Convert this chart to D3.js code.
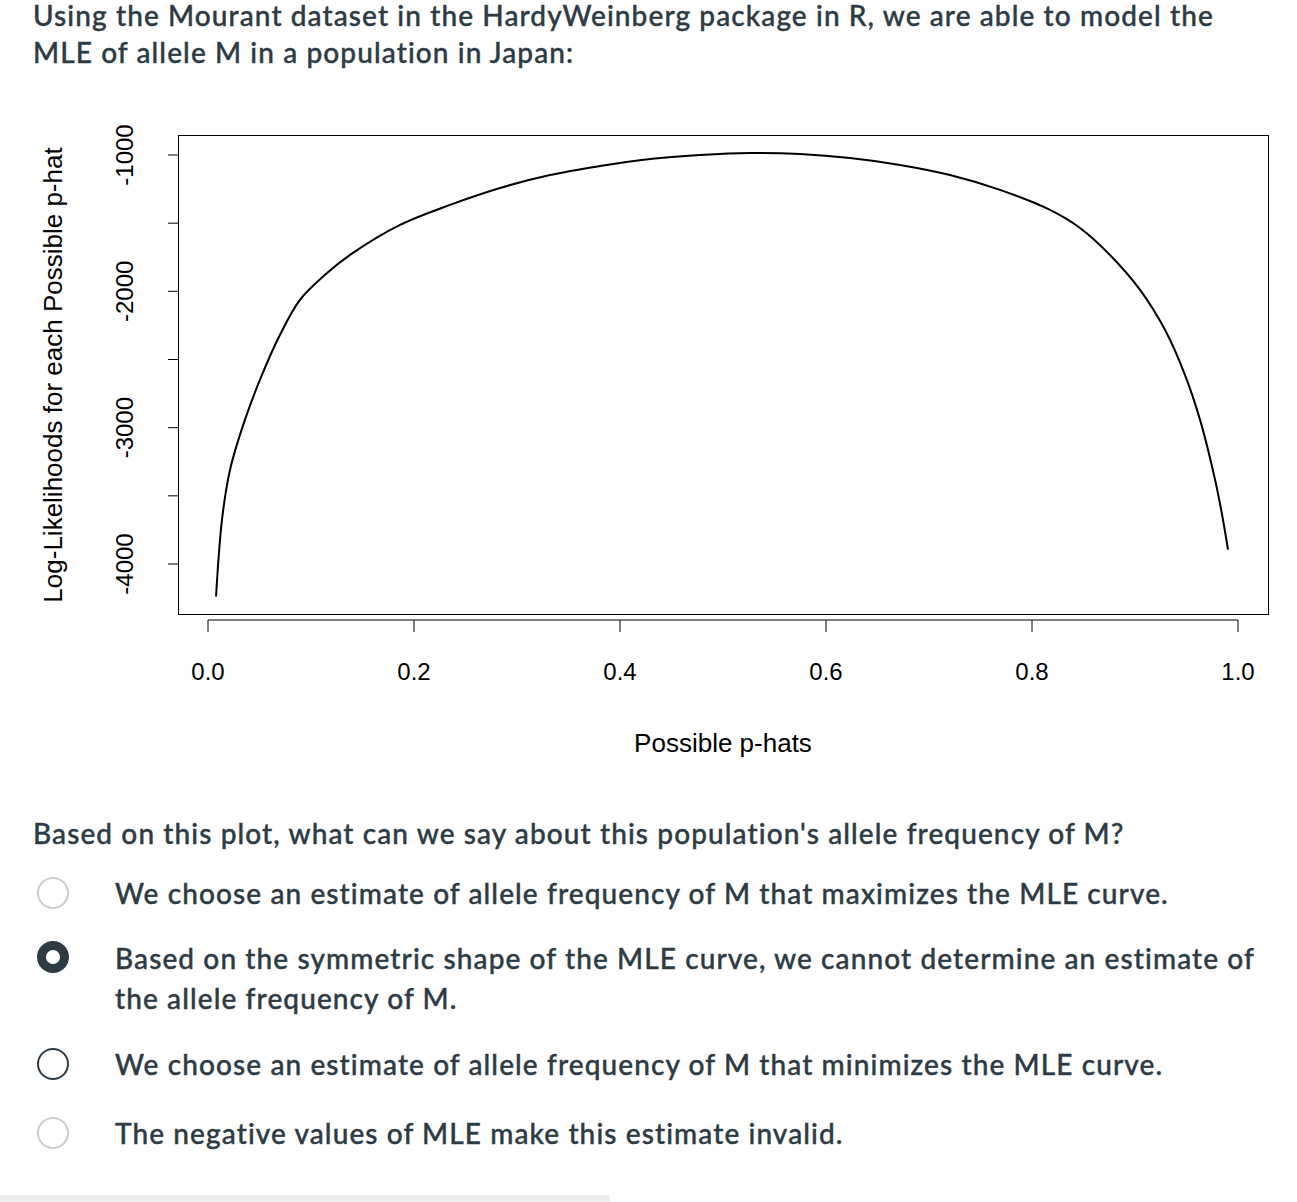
<!DOCTYPE html><html><head><meta charset="utf-8">
<script src="https://cdn.jsdelivr.net/npm/d3@7/dist/d3.min.js"></script>
<style>body{margin:0;background:#fff;font-family:Lato,sans-serif;color:#2d3b45}
.t{position:absolute;font-size:28px;line-height:38px;letter-spacing:1.1px;font-weight:500;-webkit-text-stroke:0.4px #2d3b45}
.r{position:absolute;width:32px;height:32px;border-radius:50%;box-sizing:border-box;border:2px solid #c7cdd1}
</style></head><body>
<div class="t" style="left:33px;top:-3px;width:1240px;line-height:37px">Using the Mourant dataset in the HardyWeinberg package in R, we are able to model the MLE of allele M in a population in Japan:</div>
<svg id="c" width="1297" height="780" style="position:absolute;left:0;top:0"></svg>
<div class="t" style="left:33px;top:814px">Based on this plot, what can we say about this population's allele frequency of M?</div>
<div class="r" style="left:37px;top:877px"></div>
<div class="t" style="left:115px;top:874px">We choose an estimate of allele frequency of M that maximizes the MLE curve.</div>
<div class="r" style="left:37px;top:941px;border:9px solid #2d3b45"></div>
<div class="t" style="left:115px;top:938px;width:1160px;line-height:40px">Based on the symmetric shape of the MLE curve, we cannot determine an estimate of the allele frequency of M.</div>
<div class="r" style="left:37px;top:1048px;border-color:#2d3b45"></div>
<div class="t" style="left:115px;top:1045px">We choose an estimate of allele frequency of M that minimizes the MLE curve.</div>
<div class="r" style="left:37px;top:1117px"></div>
<div class="t" style="left:115px;top:1114px">The negative values of MLE make this estimate invalid.</div>
<div style="position:absolute;left:0;top:1195px;width:610px;height:7px;background:#eee"></div>
<script>
const pHat=[.0078,.0136,.0214,.0359,.0505,.0699,.0893,.1136,.1379,.1864,.235,.2835,.332,.3806,.4291,.4777,.5262,.5748,.6233,.6718,.7204,.7689,.8175,.8466,.8757,.9049,.9291,.9485,.9631,.9777,.9845,.9903];
const logLik=[-4238,-3674,-3308,-2941,-2648,-2319,-2062,-1879,-1733,-1513,-1366,-1242,-1147,-1081,-1029,-1000,-985,-993,-1022,-1073,-1147,-1256,-1403,-1535,-1733,-1989,-2282,-2612,-2941,-3381,-3637,-3894];
const xTicks=[0,.2,.4,.6,.8,1];
const yTicks=[-4000,-3500,-3000,-2500,-2000,-1500,-1000];
const yLabels=[-4000,-3000,-2000,-1000];
const svg=d3.select("#c");
const x=d3.scaleLinear().domain([0,1]).range([208,1238]);
const y=d3.scaleLinear().domain([-4000,-1000]).range([564,155]);
const f="Liberation Sans, Arial, sans-serif";
svg.append("rect").attr("x",178.5).attr("y",135.5).attr("width",1090).attr("height",479).attr("fill","none").attr("stroke","#000");
const gx=svg.append("g").attr("transform","translate(0,620)");
gx.append("line").attr("x1",x(0)).attr("x2",x(1)).attr("stroke","#000");
xTicks.forEach(t=>{gx.append("line").attr("x1",x(t)).attr("x2",x(t)).attr("y2",12).attr("stroke","#000");
gx.append("text").attr("x",x(t)).attr("y",60).attr("text-anchor","middle").attr("font-family",f).attr("font-size",24).attr("fill","#000").text(t.toFixed(1));});
const gy=svg.append("g");
yTicks.forEach(t=>gy.append("line").attr("x1",168).attr("x2",178).attr("y1",y(t)).attr("y2",y(t)).attr("stroke","#000"));
yLabels.forEach(t=>gy.append("text").attr("transform",`translate(133,${y(t)}) rotate(-90)`).attr("text-anchor","middle").attr("font-family",f).attr("font-size",24).attr("fill","#000").text(t));
svg.append("text").attr("x",723).attr("y",752).attr("text-anchor","middle").attr("font-family",f).attr("font-size",26).attr("fill","#000").text("Possible p-hats");
svg.append("text").attr("transform","translate(62,375) rotate(-90)").attr("text-anchor","middle").attr("font-family",f).attr("font-size",26).attr("fill","#000").text("Log-Likelihoods for each Possible p-hat");
svg.append("path").datum(pHat.map((p,i)=>[p,logLik[i]])).attr("fill","none").attr("stroke","#000").attr("stroke-width",2)
.attr("d",d3.line().x(d=>x(d[0])).y(d=>y(d[1])).curve(d3.curveCatmullRom.alpha(0.5)));
</script></body></html>
